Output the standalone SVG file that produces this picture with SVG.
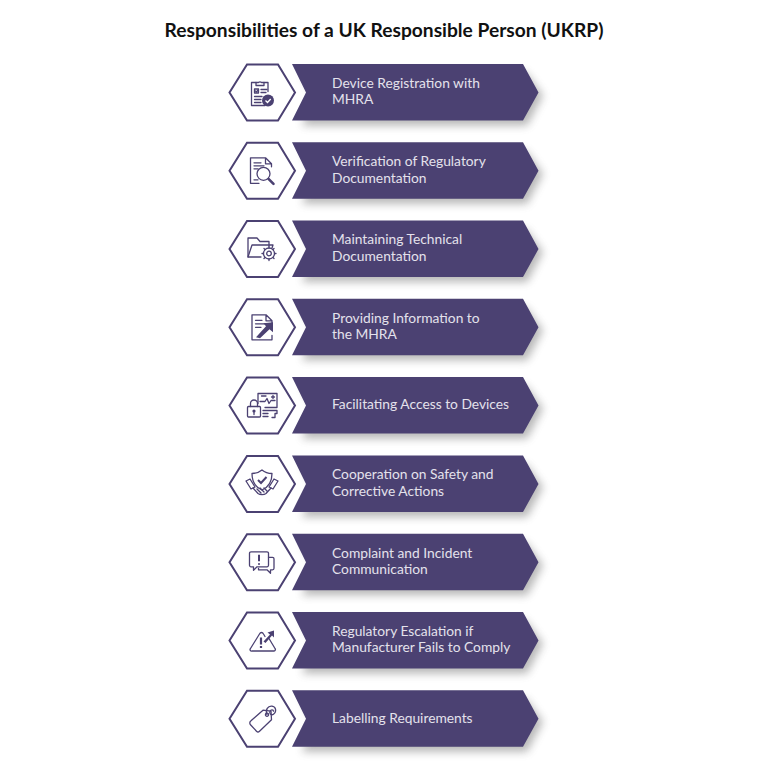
<svg xmlns="http://www.w3.org/2000/svg" width="768" height="768" viewBox="0 0 768 768">
<style>
.title{font:700 19.2px Lato,"Liberation Sans",sans-serif;fill:#111;text-anchor:middle}
.lbl{font:400 13.8px Lato,"Liberation Sans",sans-serif;fill:#e4e2ec}
.hex{fill:#fff;stroke:#4b4172;stroke-width:2;stroke-linejoin:miter}
.chev{fill:#4b4172}
.shadow{fill:#555;opacity:.42;filter:url(#blur)}
.i{fill:none;stroke:#4b4172;stroke-width:1.3;stroke-linejoin:round;stroke-linecap:round}
.f{fill:#4b4172;stroke:none}
</style>
<defs>
<filter id="blur" x="-10%" y="-30%" width="120%" height="170%"><feGaussianBlur stdDeviation="4"/></filter>
<polygon id="hexagon" class="hex" points="-32.500,0 -15,-28 16,-28 33,0 16,28 -15,28"/>
<polygon id="chevron" class="chev" points="30,-28.500 261,-28.500 276.500,0 261,28 30,28 44,0"/>
<polygon id="chevshadow" class="shadow" points="40,-20 264,-20 281,3 265,33 40,33 52,3"/>
</defs>
<text class="title" x="384" y="36.500">Responsibilities of a UK Responsible Person (UKRP)</text>

<g id="node-1" transform="translate(262 92.500)">
<use href="#chevshadow"/><use href="#chevron"/><use href="#hexagon"/>
<g><path class="i" d="M-6-10H-10.500V13H3M6-1V-10H2"/><path class="i" d="M-6-10V-7H2V-10H-.5A2.500 2.500 0 0 0-3.500-10Z"/><path class="i" d="M-7.500-3.500h4v4h-4ZM-1-3H5M-1 0H4M-7.500 4H0M-7.500 7H-1M-7.500 10H-1"/><path class="i" d="M-6.500-1.500l1 1 2-2.500"/><circle class="f" cx="6" cy="8" r="6"/><path d="M3.500 8l2 2 3.200-3.500" fill="none" stroke="#fff" stroke-width="1.300"/></g>
<text class="lbl" x="70" y="-4.700">Device Registration with</text><text class="lbl" x="70" y="11.800">MHRA</text>
</g>

<g id="node-2" transform="translate(262 170.800)">
<use href="#chevshadow"/><use href="#chevron"/><use href="#hexagon"/>
<g><path class="i" d="M-3 12.500H-11.500V-13H3.500L9.500-7V-4M3.500-13V-7H9.500"/><path class="i" d="M-8-8H-1M-8-5H2M-8-2H-4M-8 9H-4"/><circle class="i" cx="1.500" cy="3" r="6.500" stroke-width="1.500"/><path d="M6.500 8l5 5" stroke="#4b4172" stroke-width="2.600" stroke-linecap="round"/></g>
<text class="lbl" x="70" y="-4.700">Verification of Regulatory</text><text class="lbl" x="70" y="11.800">Documentation</text>
</g>

<g id="node-3" transform="translate(262 249)">
<use href="#chevshadow"/><use href="#chevron"/><use href="#hexagon"/>
<g><path class="i" d="M-1 8H-14V-11H-5L-2-7.500H7V-3"/><path class="i" d="M-14 8L-10-4H11L10-1"/><circle class="i" cx="7" cy="4.500" r="2.300"/><circle class="i" cx="7" cy="4.500" r="5.500"/><path class="i" stroke-width="2" d="M7-2.500V-1M7 10V11.500M0 4.500H1.500M12.500 4.500H14M2-.5L3 .5M11 8.500L12 9.500M12-.5L11 .5M3 8.500L2 9.500"/></g>
<text class="lbl" x="70" y="-4.700">Maintaining Technical</text><text class="lbl" x="70" y="11.800">Documentation</text>
</g>

<g id="node-4" transform="translate(262 327.300)">
<use href="#chevshadow"/><use href="#chevron"/><use href="#hexagon"/>
<g><path class="i" d="M10-2V-6.500L4-12.500H-10V12.500H10V8M4-12.500V-6.500H10"/><path class="i" d="M-6.500-7H0M-6.500-3.500H5M-6.500 0H-1"/><path class="f" d="M-6 10L4-1 1.500-4 11-5V5L7.500 2-2 11Z"/></g>
<text class="lbl" x="70" y="-4.700">Providing Information to</text><text class="lbl" x="70" y="11.800">the MHRA</text>
</g>

<g id="node-5" transform="translate(262 405.500)">
<use href="#chevshadow"/><use href="#chevron"/><use href="#hexagon"/>
<g><path class="i" d="M-4-2V-12H15V2H3"/><path class="i" d="M-2-4H3L5-7 7-2 9-5H13"/><path class="i" d="M-.5-9.500H4M11-10V-7M9.500-8.500H12.500"/><path class="i" d="M-11.500 1V-2A3.500 3.500 0 0 1-4.500-2V1"/><rect class="i" x="-14.500" y="1" width="13" height="10.500" rx="1"/><circle class="f" cx="-8" cy="5.500" r="1.600"/><path class="i" d="M-8 6V9"/><path class="i" d="M1 5H10M1 8H6M10 5H15V8H13V12H10M1 11H6"/></g>
<text class="lbl" x="70" y="3.800">Facilitating Access to Devices</text>
</g>

<g id="node-6" transform="translate(262 484)">
<use href="#chevshadow"/><use href="#chevron"/><use href="#hexagon"/>
<g><path class="i" d="M0-14C3-11.500 7-10.500 10-10.500 10-3 7 3 0 6-7 3-10-3-10-10.500-7-10.500-3-11.500 0-14Z"/><path d="M-4-4L-1-1 4.500-7" fill="none" stroke="#4b4172" stroke-width="2"/><path class="i" d="M-16-3L-12-5-7 3-11 5ZM16-3L12-5 7 3 11 5Z"/><path class="i" d="M-9 4L-4 9.500C-2 11 2 11 4 9.500L9 4M-5 5L-1 9M-2 4L2 8M2 4L5 7"/></g>
<text class="lbl" x="70" y="-4.700">Cooperation on Safety and</text><text class="lbl" x="70" y="11.800">Corrective Actions</text>
</g>

<g id="node-7" transform="translate(262 562.300)">
<use href="#chevshadow"/><use href="#chevron"/><use href="#hexagon"/>
<g><path class="i" d="M-11-10.500H5A1.500 1.500 0 0 1 6.500-9V3A1.500 1.500 0 0 1 5 4.500H-5L-8.500 8V4.500H-11A1.500 1.500 0 0 1-12.500 3V-9A1.500 1.500 0 0 1-11-10.500Z"/><path class="i" d="M6.500-5H10.500A1.500 1.500 0 0 1 12-3.500V6A1.500 1.500 0 0 1 10.500 7.500H8.500V11L5 7.500H-3.500V6"/><path d="M-3-7.500V-1M-3 1V2.500" stroke="#4b4172" stroke-width="2"/></g>
<text class="lbl" x="70" y="-4.700">Complaint and Incident</text><text class="lbl" x="70" y="11.800">Communication</text>
</g>

<g id="node-8" transform="translate(262 640.500)">
<use href="#chevshadow"/><use href="#chevron"/><use href="#hexagon"/>
<g><path class="i" d="M-2.500-6.500L-11.500 8A1.500 1.500 0 0 0-10 10.500H12A1.500 1.500 0 0 0 13 8L7-2M-2.500-6.500C-1.500-8.500.5-8.500 1.500-6.500L3-4"/><path d="M-1-3V4M-1 5.500V7.500" stroke="#4b4172" stroke-width="2.200"/><path class="f" d="M1.500 1L8-6 5.500-8 12-10V-3L10-5 3.500 2.500Z"/></g>
<text class="lbl" x="70" y="-4.700">Regulatory Escalation if</text><text class="lbl" x="70" y="11.800">Manufacturer Fails to Comply</text>
</g>

<g id="node-9" transform="translate(262 718.700)">
<use href="#chevshadow"/><use href="#chevron"/><use href="#hexagon"/>
<g><path class="i" d="M-11 2L1-8.500 9-7.500 9.500 1-2.500 12.500C-3.500 13.500-4.500 13.500-5.500 12.500L-11.500 6C-12.500 5-12.500 3-11 2Z"/><circle class="i" cx="5" cy="-4" r="1.600"/><path class="i" d="M5-4C3-9 6-13 10-12.500 14-12 15-7 11.500-4.500 9.500-3 7-5 8-7.500 9-9.500 11.500-9 11.500-7.500"/></g>
<text class="lbl" x="70" y="3.800">Labelling Requirements</text>
</g>
</svg>
